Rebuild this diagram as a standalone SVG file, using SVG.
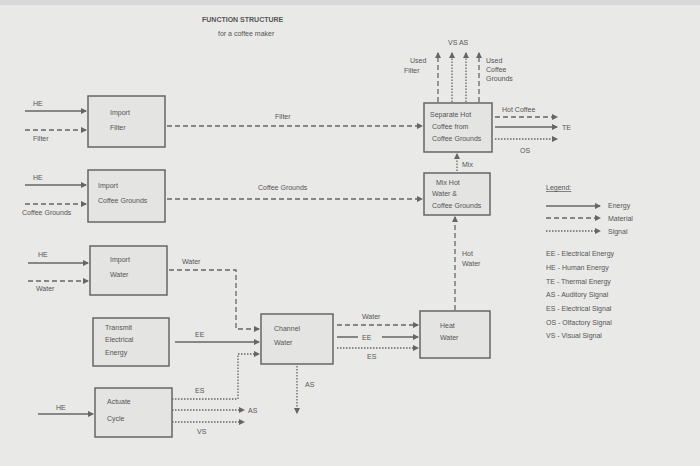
<svg xmlns="http://www.w3.org/2000/svg" width="700" height="466" viewBox="0 0 700 466">
<style>
text{font-family:"Liberation Sans",Arial,sans-serif;font-size:7px;fill:#555}
.b{fill:#e4e4e2;stroke:#666;stroke-width:1.5}
.e{stroke:#666;stroke-width:1.3;fill:none}
.m{stroke:#666;stroke-width:1.3;fill:none;stroke-dasharray:5 3}
.s{stroke:#666;stroke-width:1.3;fill:none;stroke-dasharray:1.5 1.5}
</style>
<defs><marker id="a" viewBox="0 0 6 6" refX="5" refY="3" markerWidth="5" markerHeight="5" orient="auto"><path d="M0,0L6,3L0,6z" fill="#666"/></marker></defs>
<rect width="700" height="466" fill="#e9e9e7"/>
<path d="M0,0H700V5H0z" fill="#d8d8d8"/>
<text x="202" y="22" font-size="10" font-weight="bold" fill="#444">FUNCTION STRUCTURE</text>
<text x="218" y="36">for a coffee maker</text>
<g id="filter"><rect class="b" x="88" y="96" width="77" height="51"/><text x="110" y="115">Import</text><text x="110" y="130">Filter</text></g>
<g id="grounds"><rect class="b" x="88" y="170" width="77" height="52"/><text x="98" y="188">Import</text><text x="98" y="203">Coffee Grounds</text></g>
<g id="water"><rect class="b" x="90" y="246" width="77" height="49"/><text x="110" y="262">Import</text><text x="110" y="277">Water</text></g>
<g id="transmit"><rect class="b" x="93" y="318" width="76" height="48"/><text x="105" y="330">Transmit</text><text x="105" y="342">Electrical</text><text x="105" y="355">Energy</text></g>
<g id="actuate"><rect class="b" x="95" y="388" width="77" height="49"/><text x="107" y="404">Actuate</text><text x="107" y="421">Cycle</text></g>
<g id="channel"><rect class="b" x="261" y="314" width="72" height="50"/><text x="274" y="331">Channel</text><text x="274" y="345">Water</text></g>
<g id="heat"><rect class="b" x="420" y="311" width="70" height="47"/><text x="440" y="328">Heat</text><text x="440" y="340">Water</text></g>
<g id="separate"><rect class="b" x="424" y="103" width="68" height="49"/><text x="430" y="117">Separate Hot</text><text x="432" y="129">Coffee from</text><text x="432" y="141">Coffee Grounds</text></g>
<g id="mix"><rect class="b" x="424" y="173" width="66" height="42"/><text x="436" y="185">Mix Hot</text><text x="432" y="196">Water &amp;</text><text x="432" y="208">Coffee Grounds</text></g>
<g id="connectors">
<path class="e" d="M25,111H86" marker-end="url(#a)"/><text x="33" y="106">HE</text>
<path class="m" d="M25,130H86" marker-end="url(#a)"/><text x="33" y="141">Filter</text>
<path class="e" d="M25,185H86" marker-end="url(#a)"/><text x="33" y="180">HE</text>
<path class="m" d="M25,204H86" marker-end="url(#a)"/><text x="22" y="215">Coffee Grounds</text>
<path class="e" d="M28,263H88" marker-end="url(#a)"/><text x="38" y="257">HE</text>
<path class="m" d="M28,281H88" marker-end="url(#a)"/><text x="36" y="291">Water</text>
<path class="e" d="M38,414H93" marker-end="url(#a)"/><text x="56" y="410">HE</text>
<path class="m" d="M167,126H422" marker-end="url(#a)"/><text x="275" y="119">Filter</text>
<path class="m" d="M167,199H422" marker-end="url(#a)"/><text x="258" y="190">Coffee Grounds</text>
<path class="m" d="M169,270H236V329H259" marker-end="url(#a)"/><text x="182" y="264">Water</text>
<path class="e" d="M175,342H259" marker-end="url(#a)"/><text x="195" y="337">EE</text>
<path class="s" d="M172,399H238V354H259" marker-end="url(#a)"/><text x="195" y="393">ES</text>
<path class="s" d="M172,410H244" marker-end="url(#a)"/><text x="248" y="413">AS</text>
<path class="s" d="M172,422H244" marker-end="url(#a)"/><text x="197" y="434">VS</text>
<path class="s" d="M297,366V413" marker-end="url(#a)"/><text x="305" y="387">AS</text>
<path class="m" d="M337,325H418" marker-end="url(#a)"/><text x="362" y="319">Water</text>
<path class="e" d="M337,337H358M382,337H418" marker-end="url(#a)"/><text x="362" y="340">EE</text>
<path class="s" d="M337,348H418" marker-end="url(#a)"/><text x="367" y="359">ES</text>
<path class="m" d="M455,310V217" marker-end="url(#a)"/><text x="462" y="256">Hot</text><text x="462" y="266">Water</text>
<path class="s" d="M457,171V154" marker-end="url(#a)"/><text x="462" y="167">Mix</text>
<path class="m" d="M438,102V53" marker-end="url(#a)"/><text x="410" y="63">Used</text><text x="404" y="73">Filter</text>
<path class="s" d="M452,102V53" marker-end="url(#a)"/>
<path class="s" d="M466,102V53" marker-end="url(#a)"/><text x="448" y="45">VS AS</text>
<path class="m" d="M479,102V53" marker-end="url(#a)"/><text x="486" y="63">Used</text><text x="486" y="72">Coffee</text><text x="486" y="81">Grounds</text>
<path class="m" d="M495,117H557" marker-end="url(#a)"/><text x="502" y="112">Hot Coffee</text>
<path class="e" d="M495,127H557" marker-end="url(#a)"/><text x="562" y="130">TE</text>
<path class="s" d="M495,139H557" marker-end="url(#a)"/><text x="520" y="153">OS</text>
</g>
<g id="legend">
<text x="546" y="190" text-decoration="underline">Legend:</text>
<path class="e" d="M546,206H600" marker-end="url(#a)"/><text x="608" y="208">Energy</text>
<path class="m" d="M546,218H600" marker-end="url(#a)"/><text x="608" y="221">Material</text>
<path class="s" d="M546,231H600" marker-end="url(#a)"/><text x="608" y="234">Signal</text>
<text x="546" y="256">EE - Electrical Energy</text>
<text x="546" y="270">HE - Human Energy</text>
<text x="546" y="284">TE - Thermal Energy</text>
<text x="546" y="297">AS - Auditory Signal</text>
<text x="546" y="311">ES - Electrical Signal</text>
<text x="546" y="325">OS - Olfactory Signal</text>
<text x="546" y="338">VS - Visual Signal</text>
</g>
</svg>
